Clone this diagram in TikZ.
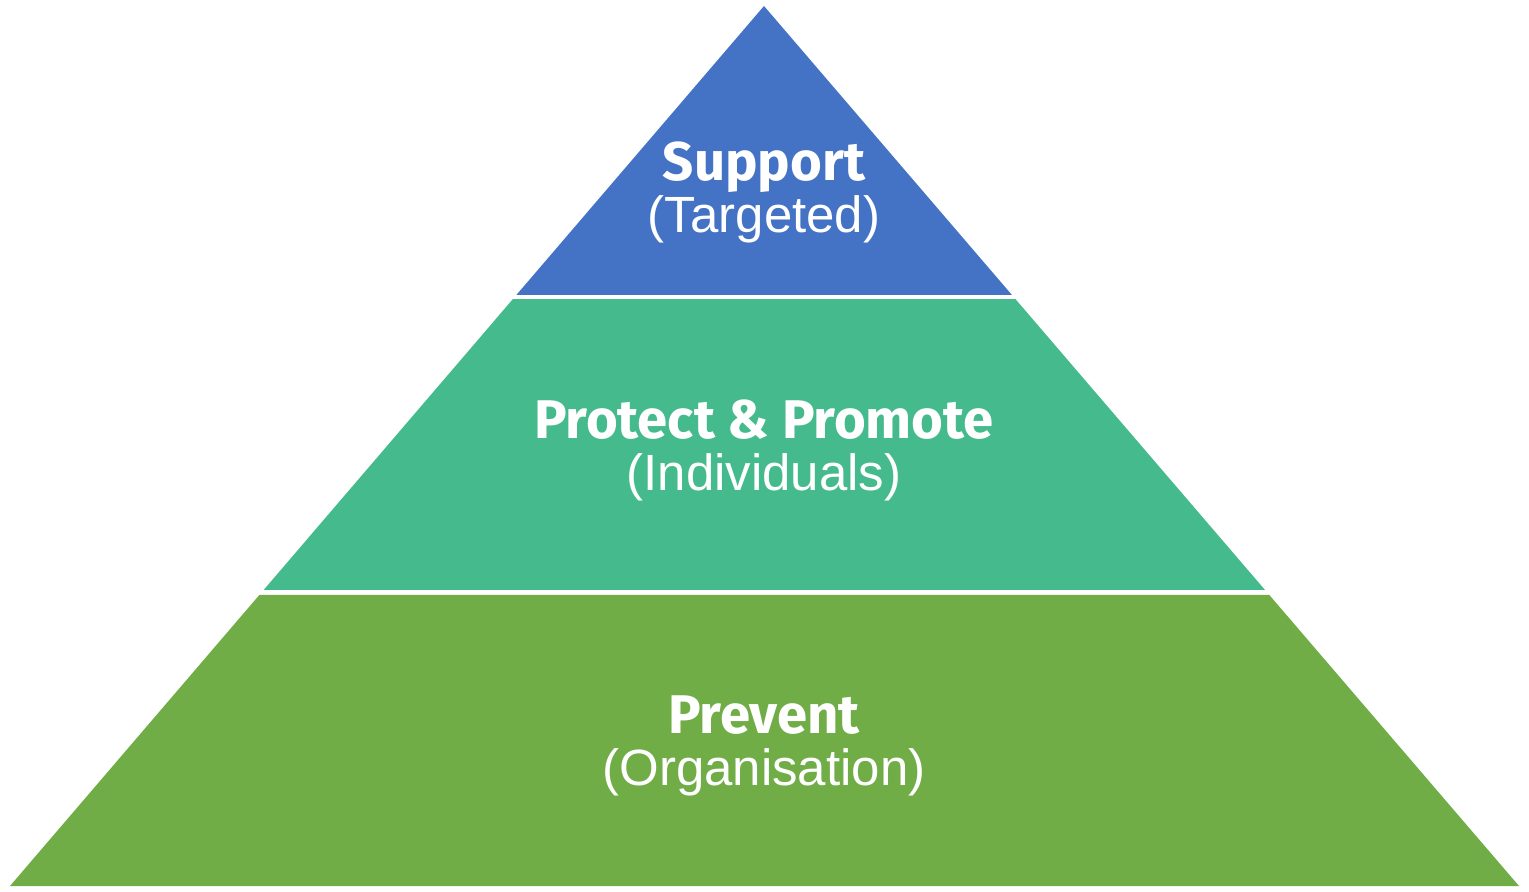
\documentclass[tikz,border=0pt]{standalone}
\usepackage{fontspec}
\setmainfont{Liberation Sans}
\newfontfamily\headfont{Fira Sans}
\usetikzlibrary{positioning,calc}
\definecolor{tierblue}{RGB}{68,114,196}
\definecolor{tierteal}{RGB}{69,187,141}
\definecolor{tiergreen}{RGB}{112,173,71}
\tikzset{
    tier/.style={
        draw=none
    },
    tiertitle/.style={
        anchor=base,
        text=white,
        inner sep=0pt,
        font=\headfont\bfseries\fontsize{15.5}{18}\selectfont
    },
    tiersub/.style={
        anchor=base,
        text=white,
        inner sep=0pt,
        font=\fontsize{14.5}{17}\selectfont
    }
}

\begin{document}
\begin{tikzpicture}

\useasboundingbox (0,0) rectangle (15.29,8.91);

\coordinate (apex) at (7.64,8.85);
\coordinate (bl) at (0.10,0.05);
\coordinate (br) at (15.19,0.05);

% ------------------------------------------------------------
% Tiers
% ------------------------------------------------------------

\fill[tier,tierblue] (apex)
  -- ($(apex)!0.3284!(bl)$) -- ($(apex)!0.3284!(br)$) -- cycle;

\fill[tier,tierteal] ($(apex)!0.3330!(bl)$)
  -- ($(apex)!0.6636!(bl)$) -- ($(apex)!0.6636!(br)$)
  -- ($(apex)!0.3330!(br)$) -- cycle;

\fill[tier,tiergreen] ($(apex)!0.6693!(bl)$)
  -- (bl) -- (br) -- ($(apex)!0.6693!(br)$) -- cycle;

% ------------------------------------------------------------
% Labels
% ------------------------------------------------------------

\node[tiertitle] (support) at (7.64,7.11) {Support};
\node[tiersub] (targeted) at (7.64,6.59) {(Targeted)};

\node[tiertitle] (protect) at (7.64,4.53) {Protect \& Promote};
\node[tiersub] (individuals) at (7.64,4.01) {(Individuals)};

\node[tiertitle] (prevent) at (7.64,1.58) {Prevent};
\node[tiersub] (organisation) at (7.64,1.06) {(Organisation)};

\end{tikzpicture}
\end{document}
